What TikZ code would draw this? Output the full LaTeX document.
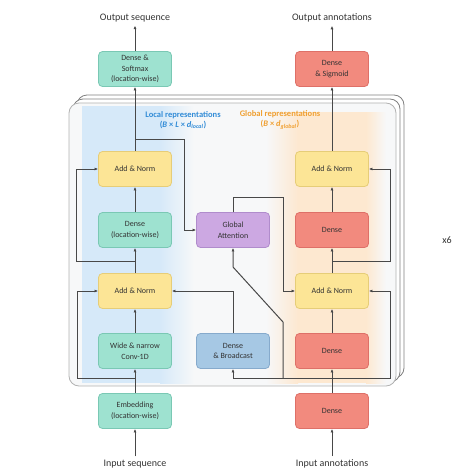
\documentclass[tikz,border=0pt]{standalone}
\usepackage{fontspec}
\setmainfont{Carlito}
\usetikzlibrary{arrows.meta, positioning}

\definecolor{tealfill}{RGB}{158,226,208}
\definecolor{tealline}{RGB}{122,200,180}
\definecolor{yelfill}{RGB}{252,229,150}
\definecolor{yelline}{RGB}{230,205,120}
\definecolor{redfill}{RGB}{242,138,126}
\definecolor{redline}{RGB}{222,112,104}
\definecolor{purfill}{RGB}{204,168,226}
\definecolor{purline}{RGB}{176,140,204}
\definecolor{blufill}{RGB}{166,200,228}
\definecolor{bluline}{RGB}{134,170,204}
\definecolor{framefill}{RGB}{247,248,249}
\definecolor{bandblue}{RGB}{214,233,249}
\definecolor{bandorange}{RGB}{253,232,208}
\definecolor{linegray}{RGB}{72,72,72}
\definecolor{localtxt}{RGB}{50,140,215}
\definecolor{globaltxt}{RGB}{240,160,50}

\tikzset{
  caja/.style={draw, rounded corners=4pt, minimum width=73pt, minimum height=35pt,
    align=center, line width=0.8pt, font=\fontsize{8}{10.5}\selectfont, text=black!80},
  verde/.style={caja, fill=tealfill, draw=tealline},
  amarillo/.style={caja, fill=yelfill, draw=yelline},
  rojo/.style={caja, fill=redfill, draw=redline},
  morado/.style={caja, fill=purfill, draw=purline},
  azul/.style={caja, fill=blufill, draw=bluline},
  etiqueta/.style={font=\fontsize{10}{12}\selectfont, text=black!80},
  repr/.style={font=\bfseries\fontsize{8.5}{10}\selectfont, align=center},
  flecha/.style={-{Latex[length=3.5pt,width=3pt]}, line width=1pt, draw=linegray},
  marco/.style={draw=black!50, line width=0.8pt, rounded corners=10pt},
}

\begin{document}
\begin{tikzpicture}[x=1pt, y=-1pt]
\useasboundingbox (0,0) rectangle (474,474);
% Marcos apilados (x6)
\draw[marco, fill=white] (77,95) rectangle (404,378);
\draw[marco, fill=white] (73,99) rectangle (400,382);
\draw[marco, draw=black!30, fill=framefill] (69,103) rectangle (396,386);
% Bandas de fondo
\fill[bandblue] (82,106) rectangle (160,383);
\shade[left color=bandblue, right color=framefill] (160,106) rectangle (194,383);
\shade[left color=framefill, right color=bandorange] (266,112) rectangle (298,383);
\fill[bandorange] (298,112) rectangle (366,383);
\shade[left color=bandorange, right color=framefill] (366,112) rectangle (386,383);
\node[repr, text=localtxt] (loc) at (183,120)
  {Local representations\\(\textit{B} × \textit{L} × \textit{d}\textsubscript{\textit{local}})};
\node[repr, text=globaltxt] (glo) at (280,120)
  {Global representations\\(\textit{B} × \textit{d}\textsubscript{\textit{global}})};
\node[etiqueta] (veces) at (447,240) {x6};

% Columna local
\node[etiqueta] (outseq) at (135,18) {Output sequence};
\node[verde] (softmax) at (135,69) {Dense \&\\Softmax\\(location-wise)};
\node[amarillo] (addL2) at (135,169) {Add \& Norm};
\node[verde] (denseL) at (135,230) {Dense\\(location-wise)};
\node[amarillo] (addL1) at (135,291) {Add \& Norm};
\node[verde] (conv) at (135,351) {Wide \& narrow\\Conv-1D};
\node[verde] (embed) at (135,411) {Embedding\\(location-wise)};
\node[etiqueta] (inseq) at (135,464) {Input sequence};

% Columna global
\node[etiqueta] (outann) at (332,18) {Output annotations};
\node[rojo] (sigmoid) at (332,69) {Dense\\\& Sigmoid};
\node[amarillo] (addG2) at (332,169) {Add \& Norm};
\node[rojo] (denseG2) at (332,230) {Dense};
\node[amarillo] (addG1) at (332,291) {Add \& Norm};
\node[rojo] (denseG1) at (332,351) {Dense};
\node[rojo] (denseG0) at (332,411) {Dense};
\node[etiqueta] (inann) at (332,464) {Input annotations};

% Centro
\node[morado] (att) at (233,230) {Global\\Attention};
\node[azul] (bcast) at (233,351) {Dense\\\& Broadcast};

\coordinate (rL1) at (135,378);
\coordinate (rL2) at (135,261);
\coordinate (rL3) at (135,139);
\coordinate (rG1) at (332,378);
\coordinate (rG1b) at (283,378);
\coordinate (rG2) at (332,261);
\coordinate (kG) at (283,197);

% Flechas local
\draw[flecha] (inseq) -- (embed);
\draw[flecha] (embed) -- (conv);
\draw[flecha] (rL1) -- ++(-58,0) |- (addL1.west);
\draw[flecha] (conv) -- (addL1);
\draw[flecha] (addL1) -- (denseL);
\draw[flecha] (rL2) -- ++(-59,0) |- (addL2.west);
\draw[flecha] (denseL) -- (addL2);
\draw[flecha] (addL2) -- (softmax);
\draw[flecha] (softmax) -- (outseq);
\draw[flecha] (rL3) -- ++(49,0) |- (att.west);

% Flechas global
\draw[flecha] (inann) -- (denseG0);
\draw[flecha] (denseG0) -- (denseG1);
\draw[flecha] (rG1) -- ++(58,0) |- (addG1.east);
\draw[flecha] (rG1) -| (bcast.south);
\draw[flecha] (rG1b) -- ++(0,-56) -- ++(-50,-55) -- (att.south);
\draw[flecha] (bcast.north) |- (addL1.east);
\draw[flecha] (att.north) |- (kG) |- (addG1.west);
\draw[flecha] (denseG1) -- (addG1);
\draw[flecha] (addG1) -- (denseG2);
\draw[flecha] (rG2) -- ++(58,0) |- (addG2.east);
\draw[flecha] (denseG2) -- (addG2);
\draw[flecha] (addG2) -- (sigmoid);
\draw[flecha] (sigmoid) -- (outann);
\end{tikzpicture}
\end{document}
